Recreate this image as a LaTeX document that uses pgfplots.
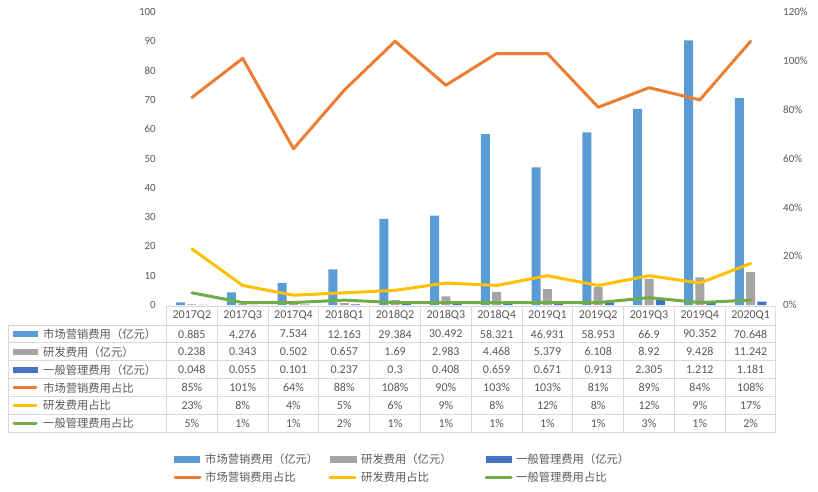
\documentclass[border=0pt]{standalone}
\usepackage{fontspec}
\setmainfont{Carlito}
\newfontfamily\cjk{Noto Sans CJK SC}
\usepackage{pgfplots}
\usepackage{pgfplotstable}
\pgfplotsset{compat=1.18}

\definecolor{mkt}{HTML}{5B9BD5}
\definecolor{rd}{HTML}{A5A5A5}
\definecolor{adm}{HTML}{4472C4}
\definecolor{mktp}{HTML}{ED7D31}
\definecolor{rdp}{HTML}{FFC000}
\definecolor{admp}{HTML}{70AD47}
\definecolor{txt}{HTML}{595959}
\definecolor{gridc}{HTML}{D9D9D9}

% quarterly expenses (100 million yuan) and their ratios (%)
\pgfplotstableread{
x cat mkt rd adm mktp rdp admp
0 2017Q2 0.885 0.238 0.048 85 23 5
1 2017Q3 4.276 0.343 0.055 101 8 1
2 2017Q4 7.534 0.502 0.101 64 4 1
3 2018Q1 12.163 0.657 0.237 88 5 2
4 2018Q2 29.384 1.69 0.3 108 6 1
5 2018Q3 30.492 2.983 0.408 90 9 1
6 2018Q4 58.321 4.468 0.659 103 8 1
7 2019Q1 46.931 5.379 0.671 103 12 1
8 2019Q2 58.953 6.108 0.913 81 8 1
9 2019Q3 66.9 8.92 2.305 89 12 3
10 2019Q4 90.352 9.428 1.212 84 9 1
11 2020Q1 70.648 11.242 1.181 108 17 2
}\costs

\pgfplotsset{
  base/.style={
    scale only axis, width=609.5pt, height=293pt,
    at={(166.5pt,186pt)}, anchor=south west,
    xmin=-0.5, xmax=11.5, xtick=\empty,
    axis line style={draw=none}, tick style={draw=none},
    ticklabel style={font=\fontsize{11}{13}\selectfont, text=txt},
    /pgf/number format/assume math mode=true,
    clip=false,
  }
}

\begin{document}
\begin{tikzpicture}
\useasboundingbox (0,0) rectangle (818pt,491pt);

% expense bars, left axis
\begin{axis}[base,
  ymin=0, ymax=100, ytick={0,10,...,100},
  axis y line*=left,
  yticklabel style={inner sep=0pt, xshift=-10.5pt},
]
\addplot[ybar, bar width=9pt, bar shift=-11.3pt, fill=mkt, draw=none] table[x=x,y=mkt]{\costs};
\addplot[ybar, bar width=9pt, bar shift=0pt, fill=rd, draw=none] table[x=x,y=rd]{\costs};
\addplot[ybar, bar width=9pt, bar shift=11.3pt, fill=adm, draw=none] table[x=x,y=adm]{\costs};
\end{axis}

% ratio lines, right axis
\begin{axis}[base,
  ymin=0, ymax=120, ytick={0,20,...,120},
  axis y line*=right,
  yticklabel={\pgfmathprintnumber{\tick}\%},
  yticklabel style={inner sep=0pt, xshift=7pt},
]
\addplot[mktp, line width=3pt, line join=round, line cap=round, mark=none] table[x=x,y=mktp]{\costs};
\addplot[rdp, line width=3pt, line join=round, line cap=round, mark=none] table[x=x,y=rdp]{\costs};
\addplot[admp, line width=3pt, line join=round, line cap=round, mark=none] table[x=x,y=admp]{\costs};
\end{axis}

% data table under the plot
\begin{scope}[shift={(0,491pt)}, x=1pt, y=-1pt]
  \draw[gridc, line width=1pt] (166.5,306) -- (776,306);
  \foreach \yy in {325,342.9,360.8,378.7,396.6,414.5,432.4}
    \draw[gridc, line width=1pt] (8,\yy) -- (776,\yy);
  \draw[gridc, line width=1pt] (8,325) -- (8,432.4);
  \foreach \k in {0,...,12}
    \draw[gridc, line width=1pt] ({166.5+50.79*\k},306) -- ({166.5+50.79*\k},432.4);

  % row headers with their keys
  \fill[mkt] (12.5,331) rectangle (37.5,337);
  \fill[rd]  (12.5,348.9) rectangle (37.5,354.9);
  \fill[adm] (12.5,366.8) rectangle (37.5,372.8);
  \draw[mktp, line width=3pt, line cap=round] (14,387.7) -- (36,387.7);
  \draw[rdp,  line width=3pt, line cap=round] (14,405.6) -- (36,405.6);
  \draw[admp, line width=3pt, line cap=round] (14,423.5) -- (36,423.5);
  \begin{scope}[every node/.style={anchor=west, inner sep=0pt, text=txt, font=\cjk\fontsize{11.3}{13}\selectfont}]
    \node at (43,334)   {市场营销费用（亿元）};
    \node at (43,351.9) {研发费用（亿元）};
    \node at (43,369.8) {一般管理费用（亿元）};
    \node at (43,387.7) {市场营销费用占比};
    \node at (43,405.6) {研发费用占比};
    \node at (43,423.5) {一般管理费用占比};
  \end{scope}

  % cell values
  \foreach \i in {0,...,11} {
    \pgfmathsetmacro{\cx}{166.5+50.79*(\i+0.5)}
    \begin{scope}[every node/.style={inner sep=0pt, text=txt, font=\fontsize{12}{14}\selectfont}]
      \pgfplotstablegetelem{\i}{cat}\of\costs
      \node at (\cx,315.5) {\pgfplotsretval};
      \pgfplotstablegetelem{\i}{mkt}\of\costs
      \node at (\cx,334) {\pgfplotsretval};
      \pgfplotstablegetelem{\i}{rd}\of\costs
      \node at (\cx,351.9) {\pgfplotsretval};
      \pgfplotstablegetelem{\i}{adm}\of\costs
      \node at (\cx,369.8) {\pgfplotsretval};
      \pgfplotstablegetelem{\i}{mktp}\of\costs
      \node at (\cx,387.7) {\pgfplotsretval\%};
      \pgfplotstablegetelem{\i}{rdp}\of\costs
      \node at (\cx,405.6) {\pgfplotsretval\%};
      \pgfplotstablegetelem{\i}{admp}\of\costs
      \node at (\cx,423.5) {\pgfplotsretval\%};
    \end{scope}
  }

  % legend
  \fill[mkt] (174,455.5) rectangle (200,462.5);
  \fill[rd]  (330,455.5) rectangle (357,462.5);
  \fill[adm] (486,455.5) rectangle (512,462.5);
  \draw[mktp, line width=3pt, line cap=round] (175,477.3) -- (200,477.3);
  \draw[rdp,  line width=3pt, line cap=round] (330,477.3) -- (355,477.3);
  \draw[admp, line width=3pt, line cap=round] (486,477.3) -- (511,477.3);
  \begin{scope}[every node/.style={anchor=west, inner sep=0pt, text=txt, font=\cjk\fontsize{11.3}{13}\selectfont}]
    \node at (205,459)   {市场营销费用（亿元）};
    \node at (361,459)   {研发费用（亿元）};
    \node at (516,459)   {一般管理费用（亿元）};
    \node at (205,477.3) {市场营销费用占比};
    \node at (361,477.3) {研发费用占比};
    \node at (516,477.3) {一般管理费用占比};
  \end{scope}
\end{scope}
\end{tikzpicture}
\end{document}
